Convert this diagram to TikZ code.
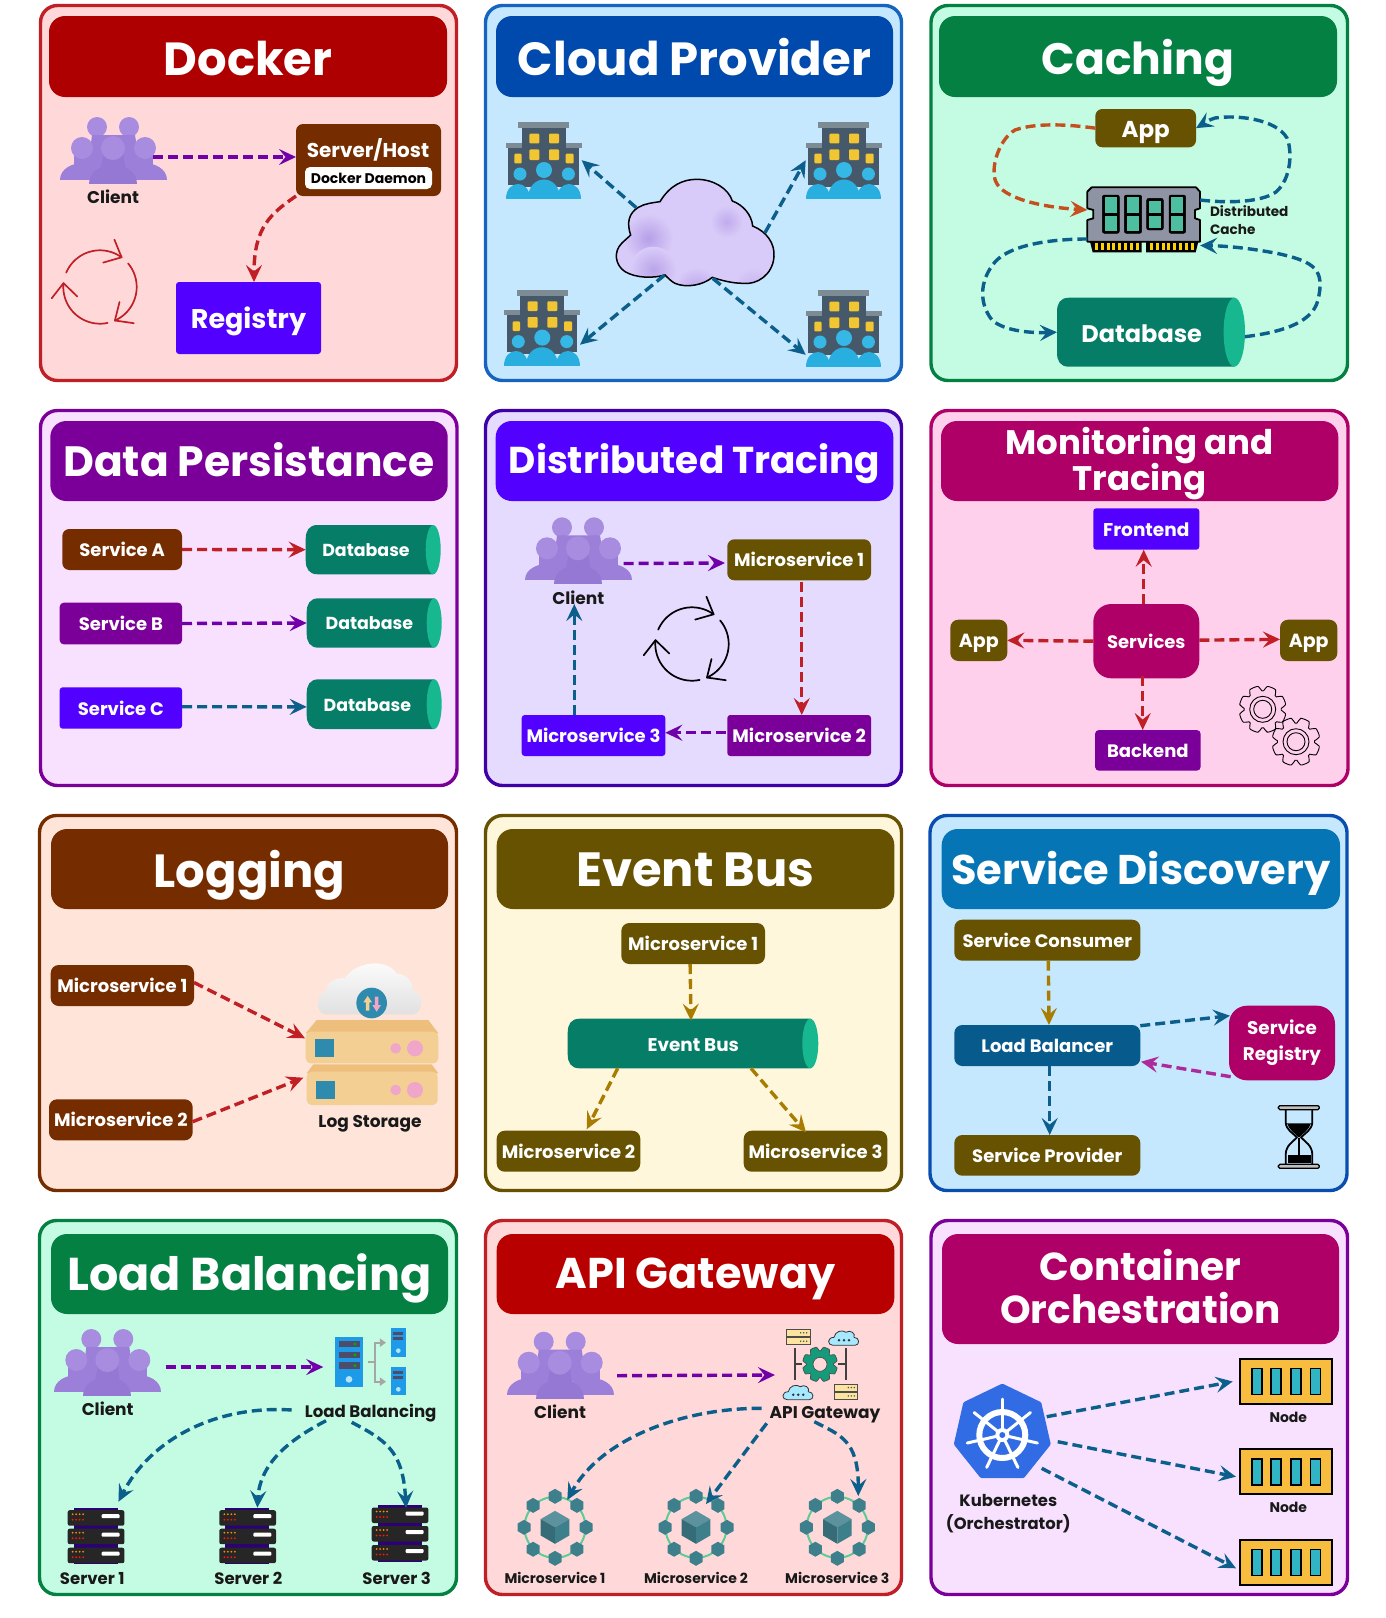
\documentclass[tikz,border=0pt]{standalone}
\usepackage{fontspec}
\setmainfont{Poppins}
\usetikzlibrary{arrows.meta,shapes.geometric,calc}
\definecolor{cRed}{HTML}{C01F26}
\definecolor{cPurple}{HTML}{7200A8}
\definecolor{cTeal}{HTML}{0B5F8A}
\definecolor{cOrange}{HTML}{C4501F}
\definecolor{cGold}{HTML}{A87C00}
\definecolor{cMag}{HTML}{AE2A9A}
\definecolor{tBrown}{HTML}{752D00}
\definecolor{tOlive}{HTML}{665200}
\definecolor{tViolet}{HTML}{7B0099}
\definecolor{tBlue}{HTML}{5200FF}
\definecolor{tRose}{HTML}{AE0066}
\definecolor{tGreen}{HTML}{058043}
\definecolor{tNavy}{HTML}{004AAD}
\definecolor{tSky}{HTML}{0675B5}
\definecolor{tDeep}{HTML}{065A8C}
\definecolor{tDark}{HTML}{AE0000}
\definecolor{tApi}{HTML}{B80000}
\definecolor{fRed}{HTML}{FFD9D9}
\definecolor{fBlue}{HTML}{C5E8FF}
\definecolor{fGreen}{HTML}{C4FCE3}
\definecolor{fViolet}{HTML}{F8E1FF}
\definecolor{fLav}{HTML}{E5DBFF}
\definecolor{fPink}{HTML}{FFD0EC}
\definecolor{fPeach}{HTML}{FFE4D9}
\definecolor{fCream}{HTML}{FFF7DC}
\definecolor{bBlue}{HTML}{1565C0}
\definecolor{bDeep}{HTML}{0A4DB0}
\definecolor{bLav}{HTML}{3F00A8}
\definecolor{cylBody}{HTML}{067D67}
\definecolor{cylCap}{HTML}{17B890}
\definecolor{pplA}{HTML}{9B7FD8}
\definecolor{pplB}{HTML}{A78CE0}
\definecolor{pplC}{HTML}{9478D3}
\definecolor{bldG}{HTML}{46596A}
\definecolor{bldC}{HTML}{7C8B94}
\definecolor{bldW}{HTML}{F2C533}
\definecolor{bldP}{HTML}{29AEE0}
\definecolor{bldH}{HTML}{35B8E6}
\definecolor{k8s}{HTML}{326CE5}
\definecolor{hexT}{HTML}{3E7F8C}
\definecolor{ringG}{HTML}{5CCB98}
\definecolor{stoF}{HTML}{F4CF94}
\definecolor{stoT}{HTML}{EDBE7C}
\definecolor{stoB}{HTML}{2E8BAE}
\definecolor{stoP}{HTML}{EFA6C8}
\definecolor{contY}{HTML}{F8BC3E}
\definecolor{contT}{HTML}{2FB5C4}
\definecolor{chipG}{HTML}{8F94A4}
\definecolor{chipM}{HTML}{4DBE9F}
\tikzset{
  boxbase/.style={rectangle,inner sep=0pt,outer sep=0pt,text=white,align=center},
  panel/.style={boxbase,line width=3.4pt,rounded corners=17pt},
  titlebar/.style={boxbase,rounded corners=16pt},
  rc/.style={rounded corners=#1},
  fs/.style={font=\fontsize{#1}{#1}\selectfont\bfseries,text height=#1*0.79pt,text depth=0pt},
  fsm/.style 2 args={font=\fontsize{#1}{#2}\selectfont\bfseries,align=center},
  lbl/.style={inner sep=0pt,outer sep=0pt,text=black!90},
  onbox/.style={inner sep=0pt,outer sep=0pt,text=white},
  icon/.style={rectangle,inner sep=0pt,outer sep=0pt},
  con/.style={line width=3.4pt,dash pattern=on 10pt off 5pt,-{Stealth[length=17pt,width=16pt,inset=6.5pt]}},
}
\newcommand{\bx}[7][]{%
  \pgfmathsetmacro{\bxw}{#5-#3}\pgfmathsetmacro{\bxh}{#6-#4}%
  \pgfmathsetmacro{\bxcx}{(#3+#5)/2}\pgfmathsetmacro{\bxcy}{(#4+#6)/2}%
  \node[boxbase,minimum width=\bxw pt,minimum height=\bxh pt,#1] (#2) at (\bxcx,\bxcy) {#7};}
\newcommand{\hump}[5]{\fill[#5] ({#1-#3},#2) .. controls ({#1-#3},{#2-#4*1.33}) and ({#1+#3},{#2-#4*1.33}) .. ({#1+#3},#2) -- cycle;}
\newcommand{\people}[3]{%
  \begin{scope}[shift={(#2,#3)}]
    \fill[pplB] (37,10) circle (10);
    \fill[pplB] (69,10) circle (10);
    \fill[pplA] (32,18) -- (75,18) -- (80,50) -- (28,50) -- cycle;
    \fill[pplA] (14,35) -- (30,35) -- (30,52) -- (14,52) -- cycle;
    \fill[pplA] (77,35) -- (93,35) -- (93,52) -- (77,52) -- cycle;
    \hump{25}{63}{25}{17}{pplA}
    \hump{82}{63}{25}{17}{pplA}
    \fill[pplB] (22,31) circle (11);
    \fill[pplB] (85,31) circle (11);
    \fill[pplC] (44,35) -- (63,35) -- (66,55) -- (40,55) -- cycle;
    \hump{53}{67}{24}{19}{pplC}
    \fill[pplB] (53,31) circle (12);
  \end{scope}
  \node[icon,minimum width=107pt,minimum height=67pt] (#1) at (#2+53.5,#3+33.5) {};}
\newcommand{\building}[3]{%
  \begin{scope}[shift={(#2,#3)}]
    \fill[bldG] (16,6) rectangle (60.3,65);
    \fill[bldG] (2.7,26) rectangle (16,63);
    \fill[bldG] (60,26) rectangle (73,63);
    \fill[bldC] (12.7,0.7) rectangle (63.7,6.7);
    \fill[bldC] (0,21) rectangle (16,26);
    \fill[bldC] (60,21) rectangle (76,26);
    \fill[bldW,rounded corners=1pt] (23.7,12) rectangle (33.7,21.7);
    \fill[bldW,rounded corners=1pt] (43.3,12) rectangle (53.3,21.7);
    \fill[bldW,rounded corners=1pt] (23.7,27.7) rectangle (33.7,38.3);
    \fill[bldW,rounded corners=1pt] (43.3,27.7) rectangle (53.3,38.3);
    \fill[bldW,rounded corners=1pt] (8.7,32) rectangle (16,41.7);
    \fill[bldW,rounded corners=1pt] (60,32) rectangle (68,41.7);
    \fill[bldH] (14.3,52.3) circle (6.5);
    \fill[bldH] (62.7,52.3) circle (6.5);
    \fill[bldH] (38.3,48.3) circle (8);
    \hump{12}{77}{12}{15}{bldP}
    \hump{63.7}{77}{12}{15}{bldP}
    \hump{38.3}{77}{16}{19}{bldP}
  \end{scope}
  \node[icon,minimum width=76pt,minimum height=77pt] (#1) at (#2+38,#3+38.5) {};}
\newcommand{\srv}[3]{%
  \begin{scope}[shift={(#2,#3)}]
    \fill[bLav!70!black] (6,0) rectangle (50,56.7);
    \foreach \yy in {2.5,21,40}{
      \fill[black!85,rounded corners=2pt] (0,\yy) rectangle (56.7,\yy+15.5);
      \fill[white,rounded corners=1pt] (34,\yy+4) rectangle (52,\yy+8);
      \foreach \xx in {5,8.5,12,15.5}{
        \fill[orange!90!yellow] (\xx,\yy+4) circle (1);
        \fill[red!80!orange] (\xx,\yy+9.5) circle (1);
      }
    }
  \end{scope}
  \node[icon,minimum width=56.7pt,minimum height=56.7pt] (#1) at (#2+28.35,#3+28.35) {};}
\newcommand{\cyl}[6]{%
  \pgfmathsetmacro{\cxa}{#4-#6}\pgfmathsetmacro{\cym}{(#3+#5)/2}\pgfmathsetmacro{\cry}{(#5-#3)/2}%
  \fill[cylBody] (\cxa,#3) -- ({#2+12},#3) .. controls ({#2+3},#3) and (#2,{#3+6}) .. (#2,{#3+14}) -- (#2,{#5-14}) .. controls (#2,{#5-6}) and ({#2+3},#5) .. ({#2+12},#5) -- (\cxa,#5) -- cycle;
  \fill[cylCap] (\cxa,\cym) ellipse [x radius=#6,y radius=\cry];
  \bx[icon]{#1}{#2}{#3}{#4}{#5}{}}
\newcommand{\gear}[6]{%
  \draw[#6] plot[domain=0:360,samples=129] ({#1+(#3+(#4-#3)*min(1,max(0,2.2-5*abs(mod(\x*#5,360)/360-0.5))))*cos(\x)},{#2+(#3+(#4-#3)*min(1,max(0,2.2-5*abs(mod(\x*#5,360)/360-0.5))))*sin(\x)}) -- cycle;}
\newcommand{\cycleicon}[4]{%
  \foreach \a/\b in {78/186,203/306,320/426}{%
    \draw[#4,line width=1.7pt,line cap=round] plot[domain=\a:\b,samples=25] ({#1+#3*cos(\x)},{#2+#3*sin(\x)});
    \draw[#4,line width=1.7pt,line cap=round,line join=round] ({#1+#3*cos(\b)+#3*0.52*cos(\b+218)},{#2+#3*sin(\b)+#3*0.52*sin(\b+218)}) -- ({#1+#3*cos(\b)},{#2+#3*sin(\b)}) -- ({#1+#3*cos(\b)+#3*0.52*cos(\b+302)},{#2+#3*sin(\b)+#3*0.52*sin(\b+302)});
  }}
\newcommand{\hexa}[4]{\fill[#4] plot[domain=-90:270,samples=7] ({#1+#3*cos(\x)},{#2+#3*sin(\x)}) -- cycle;}
\newcommand{\micro}[3]{%
  \draw[ringG,line width=2pt] (#2,#3) circle (30.5);
  \foreach \t in {0,45,...,315}{%
    \pgfmathsetmacro{\hx}{#2+31*cos(\t)}\pgfmathsetmacro{\hy}{#3+31*sin(\t)}%
    \hexa{\hx}{\hy}{7.5}{hexT}}
  \begin{scope}[shift={(#2,#3)}]
    \fill[hexT!85!white] (0,-16.5) -- (14.3,-8.2) -- (0,0) -- (-14.3,-8.2) -- cycle;
    \fill[hexT!85!black] (-14.3,-8.2) -- (0,0) -- (0,16.5) -- (-14.3,8.2) -- cycle;
    \fill[hexT] (14.3,-8.2) -- (0,0) -- (0,16.5) -- (14.3,8.2) -- cycle;
  \end{scope}
  \node[icon,minimum width=80pt,minimum height=80pt] (#1) at (#2,#3) {};}
\newcommand{\contnode}[5]{%
  \bx[fill=contY,draw=black,line width=1.8pt]{#1}{#2}{#3}{#4}{#5}{}
  \foreach \xx in {1251.7,1271,1290.7,1310.3}{%
    \filldraw[fill=contT,draw=black,line width=1.6pt] (\xx,{#3+9.5}) rectangle ({\xx+10},{#5-9.5});}}
\newcommand{\smallcloud}[2]{%
  \begin{scope}[shift={(#1,#2)}]
    \filldraw[fill=blue!25!cyan!35!white,draw=black!80,line width=.8pt] (-11,7) .. controls (-17,7) and (-17,-1) .. (-10,-1) .. controls (-9,-7) and (-2,-9) .. (2,-6) .. controls (6,-9) and (12,-5) .. (10,-1) .. controls (16,-1) and (16,7) .. (11,7) -- cycle;
    \foreach \xx in {-5,0,5}{\fill[black!80] (\xx,2) circle (1.4);}
  \end{scope}}
\newcommand{\smallsrv}[2]{%
  \begin{scope}[shift={(#1,#2)}]
    \filldraw[fill=yellow!45!orange!35!white,draw=black!70,line width=.8pt] (0,0) rectangle (23.4,7);
    \filldraw[fill=yellow!45!orange!35!white,draw=black!70,line width=.8pt] (0,8.4) rectangle (23.4,15.4);
    \foreach \xx in {14,17,20}{\fill[black!70] (\xx,3.5) circle (.8);\fill[black!70] (\xx,11.9) circle (.8);}
  \end{scope}}
\begin{document}
\begin{tikzpicture}[x=1pt,y=-1pt]
\useasboundingbox (0,0) rectangle (1386,1618);
\fill[white] (0,0) rectangle (1386,1618);

% ---------- panels ----------
\bx[panel,draw=cRed,fill=fRed]{pDocker}{40.5}{5.5}{456.5}{380.5}{}
\bx[panel,draw=bBlue,fill=fBlue]{pCloud}{485.5}{5.5}{901.5}{380.5}{}
\bx[panel,draw=tGreen,fill=fGreen]{pCache}{931}{5.5}{1347.5}{380.5}{}
\bx[panel,draw=tViolet,fill=fViolet]{pData}{40.5}{410.5}{457}{785.5}{}
\bx[panel,draw=bLav,fill=fLav]{pTrace}{485.5}{410.5}{901.5}{785.5}{}
\bx[panel,draw=tRose,fill=fPink]{pMon}{931}{410.5}{1348}{785.5}{}
\bx[panel,draw=tBrown,fill=fPeach]{pLog}{39.5}{815.5}{456.5}{1190.5}{}
\bx[panel,draw=tOlive,fill=fCream]{pEvent}{485.5}{815.5}{901.5}{1190.5}{}
\bx[panel,draw=bDeep,fill=fBlue]{pDisc}{930}{815.5}{1347}{1190.5}{}
\bx[panel,draw=tGreen,fill=fGreen]{pLB}{39.5}{1220.5}{456.5}{1594.5}{}
\bx[panel,draw=cRed,fill=fRed]{pApi}{485.5}{1220.5}{901.5}{1594.5}{}
\bx[panel,draw=tViolet,fill=fViolet]{pCont}{931}{1220.5}{1347.5}{1594.5}{}

% ---------- title bars ----------
\bx[titlebar,fill=tDark,fs=46.4,text height=38pt]{tDocker}{49}{16}{447}{97}{Docker}
\bx[titlebar,fill=tNavy,fs=46.5,text height=37pt]{tCloud}{496}{16}{893}{97}{Cloud Provider}
\bx[titlebar,fill=tGreen,fs=44,text height=36pt]{tCache}{939}{16}{1337}{97}{Caching}
\bx[titlebar,fill=tViolet,fs=42.4,text height=30.4pt]{tData}{50.3}{421}{447.7}{501}{Data Persistance}
\bx[titlebar,fill=tBlue,fs=37.4,text height=24.5pt]{tTrace}{495.7}{421}{893.3}{501}{Distributed Tracing}
\bx[titlebar,fill=tRose]{tMon}{941}{421}{1338.3}{501}{}
\node[onbox,fsm={34}{36.7}] (tMonT) at (1139.7,463.5) {Monitoring and\\Tracing};
\bx[titlebar,fill=tBrown,fs=46.5,text height=36pt]{tLog}{51}{829}{448}{909}{Logging}
\bx[titlebar,fill=tOlive,fs=48,text height=35.4pt]{tEvent}{496.7}{829}{894.3}{909}{Event Bus}
\bx[titlebar,fill=tSky,fs=41.5,text height=30pt]{tDisc}{941.7}{829}{1340}{909}{Service Discovery}
\bx[titlebar,fill=tGreen,fs=46,text height=33.5pt]{tLB}{51}{1234}{448}{1314}{Load Balancing}
\bx[titlebar,fill=tApi,fs=43,text height=28.3pt]{tApi2}{496.7}{1234}{894.3}{1314}{API Gateway}
\bx[titlebar,fill=tRose]{tCont}{942}{1234}{1339}{1344}{}
\node[onbox,fsm={39}{43}] (tContT) at (1140.5,1287) {Container\\Orchestration};

% ---------- Docker ----------
\people{dClient}{60}{117}
\node[lbl,fs=17] (dClientL) at (113,197) {Client};
\bx[fill=tBrown,rc=7pt]{dServer}{296}{124}{441}{196}{}
\node[onbox,fs=20] (dServerT) at (368,150) {Server/Host};
\bx[fill=white,rc=5pt,text=black,fs=14]{dDaemon}{305}{167}{432}{189}{Docker Daemon}
\bx[fill=tBlue,rc=3pt,fs=27]{dRegistry}{176}{282}{321}{354}{Registry}
\cycleicon{100}{287}{36.7}{cRed}
\draw[con,cPurple] ([xshift=-14pt,yshift=-6.5pt]dClient.east) -- ([yshift=3pt]dServer.west);
\draw[con,cRed] (dServer.south west) .. controls (272,213) and (254,226) .. ([xshift=5.5pt]dRegistry.north);

% ---------- Cloud Provider ----------
\building{bTL}{505.7}{121.7}
\building{bTR}{805.7}{121.7}
\building{bBL}{504}{289.3}
\building{bBR}{805.7}{289.7}
\begin{scope}[shift={(480,0)},scale=1/3]
  \def\cloudpath{(540,605) .. controls (570,555) and (610,538) .. (650,538) .. controls (700,538) and (745,565) .. (757,603) .. controls (790,615) and (815,645) .. (818,678) .. controls (860,695) and (885,730) .. (882,770) .. controls (878,825) and (830,855) .. (790,850) .. controls (755,850) and (720,840) .. (697,832) .. controls (670,855) and (620,865) .. (585,850) .. controls (575,845) and (565,835) .. (555,825) .. controls (520,835) and (470,835) .. (435,815) .. controls (405,795) and (400,755) .. (425,730) .. controls (435,720) and (445,712) .. (452,705) .. controls (440,670) and (445,640) .. (475,622) .. controls (495,610) and (520,608) .. (540,605) -- cycle}
  \fill[fLav!80!pplB] \cloudpath;
  \begin{scope}
    \clip \cloudpath;
    \shade[inner color=pplB!75!fLav,outer color=fLav!80!pplB] (505,715) circle (75);
    \shade[inner color=pplB!60!fLav,outer color=fLav!80!pplB] (740,665) circle (50);
    \shade[inner color=pplB!70!fLav,outer color=fLav!80!pplB] (520,810) circle (70);
    \shade[inner color=pplB!70!fLav,outer color=fLav!80!pplB] (650,870) circle (70);
    \shade[inner color=pplB!50!fLav,outer color=fLav!80!pplB] (820,860) circle (60);
  \end{scope}
  \draw[black,line width=1.5pt] \cloudpath;
\end{scope}
\node[ellipse,inner sep=0pt,outer sep=0pt,minimum width=139.4pt,minimum height=94.6pt] (cloudP) at (695.3,232.7) {};
\draw[con,cTeal] (cloudP.157) -- (bTL.east);
\draw[con,cTeal] (cloudP.0) -- (bTR.west);
\draw[con,cTeal] (cloudP.234) -- (bBL.-24);
\draw[con,cTeal] (cloudP.-69) -- (bBR.215);

% ---------- Caching ----------
\bx[fill=tOlive,rc=7pt,fs=23]{cApp}{1095.3}{109}{1196}{147.3}{App}
\begin{scope}[shift={(930,0)},scale=1/3]
  \fill[black] (480,725) -- (635,725) -- (635,757) -- (488,757) -- cycle;
  \fill[black] (648,725) -- (805,725) -- (797,757) -- (648,757) -- cycle;
  \foreach \xx in {495,512,530,547,565,582,600,617,660,677,695,712,730,747,765,782}{\fill[yellow!70!orange] (\xx,730) rectangle (\xx+9,750);}
  \filldraw[fill=chipG,draw=black,line width=1.8pt,line join=round] (485,562) -- (798,562) -- (810,575) -- (810,625) -- (795,630) -- (795,655) -- (810,660) -- (810,725) -- (472,725) -- (472,660) -- (490,655) -- (490,630) -- (472,625) -- (472,575) -- cycle;
  \foreach \p/\q/\r/\s in {517/568/585/700,583/635/585/700,650/700/595/690,717/767/585/700}{
    \filldraw[fill=black,draw=black,rounded corners=2pt] (\p,\r) rectangle (\q,\s);
    \fill[chipM] (\p+7,\r+7) rectangle (\q-7,{(\r+\s)/2-4});
    \fill[chipM] (\p+7,{(\r+\s)/2+4}) rectangle (\q-7,\s-7);
  }
\end{scope}
\node[icon,minimum width=112.7pt,minimum height=65.6pt] (cChip) at (1143.7,219.5) {};
\node[lbl,fsm={13.6}{18.3},align=left,anchor=west] (cChipL) at (1210,220) {Distributed\\Cache};
\cyl{cDb}{1057}{297.7}{1245}{366.7}{10.7}
\node[onbox,fs=24] (cDbT) at (1141.7,332.7) {Database};
\draw[con,cOrange] (cApp.west) .. controls (1065,124) and (1035,123) .. (1015,130) .. controls (998,140) and (990,170) .. (996,182) .. controls (1003,198) and (1040,207) .. ([yshift=9.5pt]cChip.west);
\draw[con,cTeal] ([yshift=19.5pt]cChip.east) .. controls (1225,203) and (1260,203) .. (1276,192) .. controls (1292,178) and (1292,150) .. (1287,138) .. controls (1275,118) and (1235,115) .. (1215,118) .. controls (1208,120) and (1203,124) .. (cApp.east);
\draw[con,cTeal] ([yshift=-19.5pt]cChip.west) .. controls (1050,239) and (1010,245) .. (995,262) .. controls (978,282) and (980,305) .. (992,320) .. controls (1005,332) and (1035,333) .. (cDb.west);
\draw[con,cTeal] ([yshift=-4.5pt]cDb.east) .. controls (1275,333) and (1312,325) .. (1318,300) .. controls (1325,270) and (1315,262) .. (1280,254) .. controls (1255,249) and (1230,246) .. ([yshift=-26pt]cChip.east);

% ---------- Data Persistance ----------
\bx[fill=tBrown,rc=7pt,fs=18]{sA}{62.3}{529}{182}{570}{Service A}
\bx[fill=tViolet,rc=4pt,fs=18]{sB}{59.7}{602.7}{182}{644.3}{Service B}
\bx[fill=tBlue,rc=3pt,fs=18]{sC}{59.7}{687.3}{182}{728.7}{Service C}
\cyl{dbA}{305.7}{525}{440.7}{574.3}{7.5}
\node[onbox,fs=17.4] (dbAT) at (366,550) {Database};
\cyl{dbB}{306.7}{598.3}{441.7}{647.7}{7.5}
\node[onbox,fs=17.4] (dbBT) at (369.3,623) {Database};
\cyl{dbC}{306.7}{679.3}{441.7}{729}{7.5}
\node[onbox,fs=17.4] (dbCT) at (367.3,704.3) {Database};
\draw[con,cRed] (sA.east) -- (dbA.west);
\draw[con,cPurple] (sB.east) -- (dbB.west);
\draw[con,cTeal] ([yshift=1.3pt]sC.east) -- ([yshift=-2.7pt]dbC.west);

% ---------- Distributed Tracing ----------
\people{dtClient}{525}{517.3}
\node[lbl,fs=17] (dtClientL) at (578.3,597.3) {Client};
\bx[fill=tOlive,rc=7pt,fs=18]{dt1}{727.3}{539.3}{871}{580.3}{Microservice 1}
\bx[fill=tViolet,rc=3pt,fs=18]{dt2}{727.3}{715}{871}{756}{Microservice 2}
\bx[fill=tBlue,rc=3pt,fs=18]{dt3}{521.7}{715}{665.3}{756}{Microservice 3}
\cycleicon{692}{644}{36.7}{black}
\draw[con,cPurple] ([xshift=-8.4pt,yshift=-12.7pt]dtClient.east) -- ([xshift=-2.3pt,yshift=-3.2pt]dt1.west);
\draw[con,cRed] ([xshift=2.6pt,yshift=-1.4pt]dt1.south) -- ([xshift=2.6pt]dt2.north);
\draw[con,cPurple] ([yshift=2.8pt,xshift=-1.6pt]dt2.west) -- ([yshift=2.8pt]dt3.east);
\draw[con,cTeal] ([xshift=-19.2pt]dt3.north) -- ([xshift=-4pt]dtClientL.south);

% ---------- Monitoring and Tracing ----------
\bx[fill=tBlue,rc=3pt,fs=18.5]{mFront}{1093.3}{508.3}{1199.3}{549.7}{Frontend}
\bx[fill=tRose,rc=18pt,fs=18]{mServ}{1093.3}{604}{1199.3}{678.3}{Services}
\bx[fill=tOlive,rc=8pt,fs=19]{mAppL}{950.3}{619.7}{1007.3}{661}{App}
\bx[fill=tOlive,rc=8pt,fs=19]{mAppR}{1280}{619.7}{1337.3}{661}{App}
\bx[fill=tViolet,rc=4pt,fs=18]{mBack}{1095}{730}{1200.7}{770.7}{Backend}
\draw[con,cRed] ([xshift=-2.6pt]mServ.north) -- ([xshift=-2.6pt]mFront.south);
\draw[con,cRed] (mServ.west) -- (mAppL.east);
\draw[con,cRed] ([yshift=1pt]mServ.east) -- ([yshift=1pt]mAppR.west);
\draw[con,cRed] ([xshift=-3.6pt,yshift=2pt]mServ.south) -- ([xshift=-5.15pt]mBack.north);
\gear{1262.7}{709.3}{18.5}{23.5}{8}{draw=black,line width=.9pt}
\draw[black,line width=.9pt] (1262.7,709.3) circle (13);
\draw[black,line width=.9pt] (1262.7,709.3) circle (9);
\gear{1296}{741.7}{18.5}{24}{8}{draw=black,line width=.9pt}
\draw[black,line width=.9pt] (1296,741.7) circle (13);
\draw[black,line width=.9pt] (1296,741.7) circle (9);

% ---------- Logging ----------
\bx[fill=tBrown,rc=8pt,fs=18]{lg1}{50.7}{965}{194}{1006}{Microservice 1}
\bx[fill=tBrown,rc=8pt,fs=18]{lg2}{49}{1099.3}{192.7}{1140.3}{Microservice 2}
\begin{scope}[shift={(30,805)},scale=1/3]
  \shade[top color=white,bottom color=black!12] (885,628) .. controls (855,620) and (855,570) .. (890,555) .. controls (890,530) and (925,515) .. (945,520) .. controls (965,480) and (1060,450) .. (1100,505) .. controls (1135,510) and (1150,535) .. (1148,555) .. controls (1185,570) and (1180,620) .. (1150,628) -- cycle;
  \fill[stoT] (860,645) -- (1195,645) -- (1225,685) -- (827,685) -- cycle;
  \fill[stoF,rounded corners=5pt] (827,680) rectangle (1225,775);
  \fill[stoT] (850,778) -- (1205,778) -- (1225,805) -- (830,805) -- cycle;
  \fill[stoF,rounded corners=5pt] (830,800) rectangle (1223,900);
  \fill[stoB] (855,702) rectangle (912,757);
  \fill[stoB] (857,827) rectangle (914,882);
  \foreach \yy in {730,855}{
    \fill[stoP] (1097,\yy) circle (16);
    \fill[stoP] (1155,\yy) circle (24);
  }
  \fill[stoB] (1025,594) circle (46);
  \fill[stoF] (1013,573) -- (1000,592) -- (1008,592) -- (1008,617) -- (1018,617) -- (1018,592) -- (1026,592) -- cycle;
  \fill[stoP] (1040,620) -- (1027,600) -- (1035,600) -- (1035,575) -- (1045,575) -- (1045,600) -- (1053,600) -- cycle;
\end{scope}
\node[icon,minimum width=132.6pt,minimum height=85pt] (lgStore) at (372,1062.5) {};
\node[lbl,fs=17] (lgStoreL) at (370,1121) {Log Storage};
\draw[con,cRed] ([yshift=3pt]lg1.east) -- ([yshift=24.2pt,xshift=-.7pt]lgStore.west);
\draw[con,cRed] ([yshift=-1.9pt]lg2.east) -- ([yshift=-15.2pt,xshift=-2.4pt]lgStore.west);

% ---------- Event Bus ----------
\bx[fill=tOlive,rc=8pt,fs=18]{eb1}{621.3}{923}{765}{964}{Microservice 1}
\cyl{ebBus}{567.7}{1018.7}{818.3}{1068.3}{8}
\node[onbox,fs=18.4] (ebBusT) at (693.3,1044.3) {Event Bus};
\bx[fill=tOlive,rc=8pt,fs=18]{eb2}{496.7}{1130.7}{640.3}{1171.7}{Microservice 2}
\bx[fill=tOlive,rc=8pt,fs=18]{eb3}{743.7}{1130.7}{887.3}{1171.7}{Microservice 3}
\draw[con,cGold] ([xshift=-3pt]eb1.south) -- ([xshift=-2pt,yshift=-2pt]ebBus.north);
\draw[con,cGold] ([xshift=-75.3pt]ebBus.south) -- ([xshift=18.2pt,yshift=1.4pt]eb2.north);
\draw[con,cGold] ([xshift=58pt]ebBus.south) -- ([xshift=-9.5pt,yshift=-1.6pt]eb3.north);

% ---------- Service Discovery ----------
\bx[fill=tOlive,rc=8pt,fs=18]{sdC}{954.3}{919.7}{1140.3}{960.7}{Service Consumer}
\bx[fill=tDeep,rc=8pt,fs=18]{sdL}{954.3}{1025}{1140.3}{1066}{Load Balancer}
\bx[fill=tOlive,rc=8pt,fs=18]{sdP}{954.3}{1135}{1140.3}{1175.7}{Service Provider}
\bx[fill=tRose,rc=18pt,fsm={18.3}{25.7}]{sdR}{1229}{1005.7}{1335}{1080.3}{Service\\Registry}
\draw[con,cGold] ([xshift=1pt]sdC.south) -- ([xshift=1.7pt]sdL.north);
\draw[con,cTeal] ([yshift=19.8pt]sdL.east) -- ([yshift=27.3pt,xshift=1pt]sdR.west);
\draw[con,cMag] ([yshift=-33.7pt,xshift=1.7pt]sdR.west) -- ([yshift=-16.2pt,xshift=.7pt]sdL.east);
\draw[con,cTeal] ([xshift=2.4pt]sdL.south) -- ([xshift=2.4pt]sdP.north);
\begin{scope}[shift={(925,805)},scale=1/3]
  \draw[black,line width=1.8pt,line join=round] (1082,914) -- (1082,950) .. controls (1082,975) and (1105,985) .. (1116,997) .. controls (1105,1010) and (1082,1020) .. (1082,1050) -- (1082,1078);
  \draw[black,line width=1.8pt,line join=round] (1162,914) -- (1162,950) .. controls (1162,975) and (1139,985) .. (1128,997) .. controls (1139,1010) and (1162,1020) .. (1162,1050) -- (1162,1078);
  \fill[black] (1086,955) .. controls (1092,975) and (1110,985) .. (1122,998) .. controls (1134,985) and (1152,975) .. (1158,955) -- cycle;
  \fill[black] (1088,1050) rectangle (1158,1075);
  \draw[black,line width=2.2pt] (1122,998) -- (1122,1050);
  \filldraw[fill=gray!50,draw=black,line width=1.2pt,rounded corners=1.5pt] (1060,902) rectangle (1183,914);
  \filldraw[fill=gray!50,draw=black,line width=1.2pt,rounded corners=1.5pt] (1060,1078) rectangle (1183,1090);
\end{scope}

% ---------- Load Balancing ----------
\people{lbClient}{54.3}{1329}
\node[lbl,fs=17] (lbClientL) at (107.7,1409) {Client};
\begin{scope}[shift={(0,1210)},scale=1/3]
  \definecolor{lbB}{HTML}{1E9BE8}
  \fill[lbB] (1005,382) rectangle (1090,530);
  \foreach \yy in {392,425,457}{
    \fill[black!70!blue!40!gray] (1017,\yy) rectangle (1080,\yy+20);
    \fill[green!70!black] (1065,\yy+10) circle (5);
  }
  \fill[white!70!cyan] (1047,508) circle (10);
  \fill[lbB] (1172,355) rectangle (1218,440);
  \fill[black!70!blue!40!gray] (1180,365) rectangle (1210,375);
  \fill[black!70!blue!40!gray] (1180,380) rectangle (1210,390);
  \fill[white!70!cyan] (1195,422) circle (7);
  \fill[lbB] (1172,472) rectangle (1218,556);
  \fill[black!70!blue!40!gray] (1180,482) rectangle (1210,492);
  \fill[black!70!blue!40!gray] (1180,498) rectangle (1210,508);
  \fill[white!70!cyan] (1195,538) circle (7);
  \draw[gray!70,line width=2.2pt] (1105,455) -- (1125,455);
  \draw[gray!70,line width=2.2pt,-{Triangle[length=6pt,width=8pt]}] (1125,455) -- (1125,398) -- (1158,398);
  \draw[gray!70,line width=2.2pt,-{Triangle[length=6pt,width=8pt]}] (1125,455) -- (1125,515) -- (1158,515);
\end{scope}
\node[icon,minimum width=71pt,minimum height=68pt] (lbIcon) at (370.5,1362) {};
\node[lbl,fs=16.6] (lbIconL) at (370.7,1411.3) {Load Balancing};
\srv{lbS1}{67.7}{1507.7}
\srv{lbS2}{219.3}{1507.7}
\srv{lbS3}{371.7}{1505}
\node[lbl,fs=16.5] (lbS1L) at (92.3,1578.3) {Server 1};
\node[lbl,fs=16.5] (lbS2L) at (248.3,1578.3) {Server 2};
\node[lbl,fs=16.5] (lbS3L) at (396.7,1578.3) {Server 3};
\draw[con,cPurple] ([xshift=4.4pt,yshift=-4.5pt]lbClient.east) -- ([xshift=-11.7pt,yshift=-5pt]lbIcon.west);
\draw[con,cTeal] ([xshift=-79pt,yshift=1.3pt]lbIconL.center) .. controls (215,1405) and (150,1440) .. ([xshift=22.4pt,yshift=6pt]lbS1.north);
\draw[con,cTeal] ([xshift=-44.7pt,yshift=-9.4pt]lbIconL.center) .. controls (295,1437) and (260,1460) .. ([xshift=9.7pt]lbS2.north);
\draw[con,cTeal] ([xshift=-19pt,yshift=-11pt]lbIconL.center) .. controls (385,1440) and (403,1450) .. ([xshift=6pt,yshift=-3pt]lbS3.north);

% ---------- API Gateway ----------
\people{apClient}{506.7}{1331.7}
\node[lbl,fs=17] (apClientL) at (560,1411.3) {Client};
\smallsrv{786.7}{1329.3}
\smallsrv{834.3}{1384}
\smallcloud{844}{1338.3}
\smallcloud{798.3}{1392.7}
\begin{scope}[black!75,line width=1.1pt]
  \draw (795,1348) -- (795,1380);
  \draw (795,1364) -- (802,1364);
  \draw (846,1348) -- (846,1380);
  \draw (838,1364) -- (846,1364);
\end{scope}
\gear{820}{1364.3}{13.5}{17.5}{8}{fill=cylCap!85!black,draw=black!70,line width=.7pt}
\filldraw[fill=fRed,draw=black!70,line width=.7pt] (820,1364.3) circle (7);
\node[icon,minimum width=76pt,minimum height=72pt] (apIcon) at (822,1364) {};
\node[lbl,fs=17] (apIconL) at (825,1411.3) {API Gateway};
\micro{apM1}{555}{1527.3}
\micro{apM2}{696}{1527.3}
\micro{apM3}{837.3}{1527.3}
\node[lbl,fs=14] (apM1L) at (555,1577.7) {Microservice 1};
\node[lbl,fs=14] (apM2L) at (696,1577.7) {Microservice 2};
\node[lbl,fs=14] (apM3L) at (837.3,1577.7) {Microservice 3};
\draw[con,cPurple] ([xshift=3.4pt,yshift=-10.5pt]apClient.east) -- ([xshift=-9pt,yshift=-11pt]apIcon.west);
\draw[con,cTeal] ([xshift=-63.3pt,yshift=3pt]apIconL.center) .. controls (680,1408) and (600,1440) .. ([xshift=12.3pt,yshift=-12.7pt]apM1.north);
\draw[con,cTeal] ([xshift=-58.3pt,yshift=-12pt]apIconL.center) -- ([xshift=10pt,yshift=-16.7pt]apM2.north);
\draw[con,cTeal] ([xshift=-10.7pt,yshift=-10.4pt]apIconL.center) .. controls (840,1435) and (858.3,1440) .. ([xshift=21pt,yshift=-8.7pt]apM3.north);

% ---------- Container Orchestration ----------
\filldraw[fill=k8s,draw=k8s,line width=5pt,line join=round] plot[domain=-90:270,samples=8] ({1002.3+47*cos(\x)},{1433.3+47*sin(\x)}) -- cycle;
\foreach \t in {0,...,6}{
  \draw[white,line width=3pt,line cap=round] (1002.3,1435) -- ({1002.3+36*cos(-90+\t*360/7)},{1435+36*sin(-90+\t*360/7)});
}
\draw[white,line width=6pt] (1002.3,1435) circle (23);
\fill[white] (1002.3,1435) circle (7);
\fill[k8s] (1002.3,1435) circle (3);
\node[icon,minimum width=100pt,minimum height=100pt] (kube) at (1002.3,1433.3) {};
\node[lbl,fsm={16.4}{23.3}] (kubeL) at (1008.3,1513.5) {Kubernetes\\(Orchestrator)};
\contnode{n1}{1240}{1359}{1331.7}{1404}
\contnode{n2}{1240}{1449.3}{1331.7}{1494.3}
\contnode{n3}{1240}{1540}{1331.7}{1585}
\node[lbl,fs=14] (n1L) at (1288.3,1416.7) {Node};
\node[lbl,fs=14] (n2L) at (1288.3,1507) {Node};
\draw[con,cTeal] ([xshift=-5.6pt,yshift=16.6pt]kube.east) -- ([xshift=-7.3pt]n1.west);
\draw[con,cTeal] ([xshift=5.4pt,yshift=-8.4pt]kube.east) -- ([xshift=-4pt,yshift=-4.9pt]n2.west);
\draw[con,cTeal] ([xshift=-10.6pt,yshift=-35pt]kube.east) -- ([xshift=-4pt,yshift=-5.8pt]n3.west);
\end{tikzpicture}
\end{document}
